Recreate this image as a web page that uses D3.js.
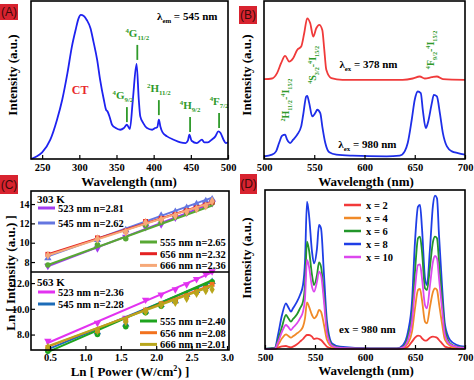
<!DOCTYPE html>
<html>
<head>
<meta charset="utf-8">
<script src="https://cdn.jsdelivr.net/npm/d3@7"></script>
<style>
  body { margin: 0; background: #fff; }
  svg { display: block; }
  text { font-family: "Liberation Serif", "Times New Roman", serif; font-weight: bold; }
</style>
</head>
<body>
<svg id="fig" width="474" height="380"></svg>
<script>
// ---- (A) excitation spectrum, lambda_em = 545 nm
const excWl  = [235, 243, 250, 261, 270, 277, 284, 290, 295, 299, 302, 306, 310, 315, 319, 324, 328, 333, 336, 338, 341, 344, 349, 355, 360, 364, 368, 372, 377, 380, 382, 386, 391, 398, 402, 405, 407, 409, 412, 418, 427, 436, 443, 446, 448, 451, 458, 465, 468, 473, 478, 483, 487, 490, 494, 497, 500];
const excInt = [0, 8, 20, 58, 118, 178, 258, 338, 388, 423, 433, 430, 418, 393, 353, 298, 238, 178, 148, 143, 125, 103, 93, 88, 93, 103, 90, 178, 286, 178, 128, 108, 93, 88, 93, 96, 118, 98, 80, 68, 58, 50, 48, 55, 73, 55, 48, 58, 50, 50, 58, 68, 83, 78, 58, 48, 50];
const excPeakWl  = [364, 378, 407, 449, 488];
const excPeakTop = [156, 343, 177, 126, 138];
const excPeakLbl = ['^{4}G_{9/2}', '^{4}G_{11/2}', '^{2}H_{11/2}', '^{4}H_{9/2}', '^{4}F_{7/2}'];

// ---- (B) emission spectra
const emWl378  = [500, 508, 513, 517, 521, 525, 529, 533, 537, 540, 543, 546, 549, 552, 555, 558, 560, 562, 567, 578, 638, 648, 655, 660, 667, 672, 678, 700];
const emInt378 = [240, 242, 258, 288, 310, 293, 303, 328, 338, 378, 423, 408, 368, 393, 403, 388, 328, 268, 243, 238, 238, 242, 248, 242, 246, 248, 240, 238];
const emWl980  = [500, 508, 512, 515, 518, 521, 523, 526, 529, 533, 537, 539, 542, 543, 545, 548, 551, 553, 556, 558, 561, 565, 572, 588, 622, 635, 640, 643, 647, 650, 653, 656, 658, 661, 663, 667, 669, 672, 675, 678, 682, 687, 693, 700];
const emInt980 = [8, 13, 23, 48, 70, 73, 58, 48, 58, 73, 98, 133, 188, 190, 168, 128, 138, 148, 138, 98, 48, 20, 13, 10, 8, 10, 23, 48, 118, 178, 203, 198, 148, 93, 108, 168, 193, 188, 138, 78, 38, 23, 18, 13];

// ---- (C) ln(I) vs ln(P)
const lnP = [0.47, 1.17, 1.57, 1.85, 2.07, 2.27, 2.43, 2.57, 2.70, 2.79];
const bands = ['523 nm', '545 nm', '555 nm', '656 nm', '666 nm'];
const n303 = [2.81, 2.62, 2.65, 2.32, 2.36];
const a303 = [6.23, 7.35, 6.45, 7.71, 7.59];
const n563 = [2.36, 2.28, 2.40, 2.08, 2.01];
const a563 = [6.24, 5.78, 5.52, 6.07, 6.16];
const lnI303 = [
  [7.6, 9.4, 10.6, 11.6, 11.9, 12.6, 13.1, 13.6, 13.9, 14.1],
  [8.4, 10.3, 11.3, 12.0, 12.8, 13.2, 13.6, 14.0, 14.3, 14.5],
  [7.7, 9.8, 10.4, 11.8, 12.1, 12.7, 13.1, 13.5, 13.8, 14.1],
  [8.8, 10.5, 11.2, 12.2, 12.5, 12.9, 13.3, 13.6, 13.9, 14.2],
  [8.7, 10.4, 11.1, 12.1, 12.4, 12.8, 13.2, 13.5, 13.8, 14.3]
];
const lnI563 = [
  [7.5, 8.9, 9.3, 10.7, 11.1, 11.5, 11.9, 12.3, 12.7, 12.9],
  [6.9, 8.2, 8.8, 9.8, 10.3, 10.6, 11.1, 11.4, 11.7, 12.1],
  [6.7, 8.0, 8.6, 9.7, 10.2, 10.6, 11.1, 11.5, 11.8, 12.1],
  [7.0, 8.3, 9.1, 9.9, 10.4, 10.6, 11.0, 11.3, 11.6, 11.9],
  [7.0, 8.3, 9.0, 9.8, 10.3, 10.5, 10.8, 11.2, 11.4, 11.5]
];

// ---- (D) emission vs doping x, ex = 980 nm
const dWl = [500, 510, 513, 517, 521, 523, 526, 528, 532, 535, 538, 540, 542, 544, 547, 549, 552, 554, 556, 559, 562, 567, 575, 605, 632, 638, 643, 647, 650, 653, 655, 657, 660, 662, 665, 668, 670, 672, 674, 677, 680, 685, 692, 700];
const dX2  = [0, 1, 4, 8, 9, 7, 5, 7, 14, 22, 30, 37, 42, 42, 37, 30, 32, 30, 27, 17, 7, 2, 1, 0, 0, 2, 7, 22, 34, 40, 39, 32, 25, 26, 34, 37, 36, 34, 27, 17, 7, 3, 1, 1];
const dX4  = [0, 1, 12, 32, 44, 40, 34, 38, 47, 54, 67, 92, 140, 127, 102, 92, 102, 117, 112, 72, 27, 7, 2, 1, 1, 4, 17, 52, 122, 177, 180, 147, 82, 77, 127, 172, 182, 177, 137, 77, 27, 10, 4, 2];
const dX6  = [0, 3, 27, 67, 102, 94, 82, 90, 104, 122, 142, 192, 322, 297, 222, 192, 222, 260, 247, 162, 62, 12, 4, 1, 1, 7, 37, 102, 232, 332, 337, 292, 182, 177, 247, 322, 337, 332, 262, 152, 57, 17, 7, 4];
const dX8  = [0, 4, 42, 102, 137, 127, 112, 122, 142, 162, 192, 262, 442, 402, 292, 257, 302, 372, 362, 222, 82, 17, 7, 2, 2, 12, 52, 142, 322, 427, 432, 362, 212, 192, 302, 432, 460, 452, 342, 192, 72, 27, 12, 7];
const dX10 = [0, 2, 20, 52, 72, 67, 57, 64, 77, 92, 112, 152, 267, 247, 187, 172, 202, 232, 222, 142, 47, 10, 3, 1, 1, 5, 27, 82, 182, 252, 254, 212, 132, 122, 192, 262, 279, 272, 212, 122, 42, 14, 6, 3];
const dLabels = ['x = 2', 'x = 4', 'x = 6', 'x = 8', 'x = 10'];

const svg = d3.select('#fig');
svg.append('rect').attr('width', 474).attr('height', 380).attr('fill', '#fff');

const GREEN = '#2f9a2a';

// text with ^{sup} and _{sub}
function rich(sel, str, size) {
  const parts = str.match(/\^\{[^}]*\}|_\{[^}]*\}|[^^_]+/g);
  let shift = 0;
  parts.forEach(p => {
    let type = null, t = p;
    if (p[0] === '^') { type = 'sup'; t = p.slice(2, -1); }
    else if (p[0] === '_') { type = 'sub'; t = p.slice(2, -1); }
    const target = type === 'sup' ? -size * 0.38 : type === 'sub' ? size * 0.3 : 0;
    sel.append('tspan').attr('dy', target - shift).attr('font-size', type ? size * 0.62 : size).text(t);
    shift = target;
  });
  return sel;
}

function frame(x0, y0, x1, y1) {
  svg.append('rect').attr('x', x0).attr('y', y0).attr('width', x1 - x0).attr('height', y1 - y0)
    .attr('fill', 'none').attr('stroke', '#000').attr('stroke-width', 1.6);
}

function bottomAxis(scale, y, ticks, fmt, pad) {
  const g = svg.append('g').attr('transform', `translate(0,${y})`)
    .call(d3.axisBottom(scale).tickValues(ticks).tickFormat(fmt).tickSize(-4).tickPadding(pad));
  g.attr('font-family', null).attr('font-size', 10.5);
  g.select('.domain').remove();
  g.selectAll('line').attr('stroke', '#000').attr('stroke-width', 1.2);
  g.selectAll('text').attr('fill', '#000');
}

function leftAxis(scale, x, ticks) {
  const g = svg.append('g').attr('transform', `translate(${x},0)`)
    .call(d3.axisLeft(scale).tickValues(ticks).tickSize(-4).tickPadding(1.5));
  g.attr('font-family', null).attr('font-size', 10);
  g.select('.domain').remove();
  g.selectAll('line').attr('stroke', '#000').attr('stroke-width', 1.2);
  g.selectAll('text').attr('fill', '#000');
}

function xTitle(str, x, y) {
  rich(svg.append('text').attr('x', x).attr('y', y).attr('text-anchor', 'middle'), str, 13);
}
function yTitle(str, x, y) {
  rich(svg.append('text').attr('transform', `translate(${x},${y}) rotate(-90)`).attr('text-anchor', 'middle'), str, 13);
}

function tag(x, y, w, h, label) {
  svg.append('rect').attr('x', x).attr('y', y).attr('width', w).attr('height', h).attr('fill', '#d8232f');
  svg.append('text').attr('x', x + w / 2).attr('y', y + h / 2 + 4).attr('text-anchor', 'middle')
    .style('font-family', '"Liberation Sans", Arial, sans-serif').style('font-weight', 'normal')
    .attr('font-size', 12).attr('fill', '#3a0a0a').text(label);
}

const curve = (x, y, xs, ys) => d3.line().x(i => x(xs[i])).y(i => y(ys[i])).curve(d3.curveMonotoneX)(d3.range(xs.length));

// ================= (A)
const xA = d3.scaleLinear().domain([235, 500]).range([31, 228]);
const yA = d3.scaleLinear().domain([0, 475]).range([159, 1]);
svg.append('path').attr('d', curve(xA, yA, excWl, excInt)).attr('fill', 'none').attr('stroke', '#1e22f0').attr('stroke-width', 1.8);
excPeakWl.forEach((w, i) => {
  const px = xA(w), py = yA(excPeakTop[i]);
  svg.append('line').attr('x1', px).attr('x2', px).attr('y1', py).attr('y2', py + 15).attr('stroke', GREEN).attr('stroke-width', 1.8);
  rich(svg.append('text').attr('x', px - (i === 0 ? 4 : 0)).attr('y', py - 8).attr('text-anchor', 'middle').attr('fill', GREEN), excPeakLbl[i], 11);
});
svg.append('text').attr('x', xA(301)).attr('y', 94).attr('text-anchor', 'middle').attr('fill', '#e8282c').attr('font-size', 12).text('CT');
rich(svg.append('text').attr('x', 157).attr('y', 20).attr('fill', '#000'), 'λ_{em} = 545 nm', 11);
frame(31, 1, 228, 159);
bottomAxis(xA, 159, [250, 300, 350, 400, 450, 500], d3.format('d'), 4.5);
xTitle('Wavelength (nm)', 129, 186);
yTitle('Intensity (a.u.)', 17, 75);
tag(0, 4, 18, 16, '(A)');

// ================= (B)
const xB = d3.scaleLinear().domain([500, 700]).range([264, 465]);
const yB = d3.scaleLinear().domain([0, 475]).range([159, 1]);
svg.append('path').attr('d', curve(xB, yB, emWl378, emInt378)).attr('fill', 'none').attr('stroke', '#f03a3a').attr('stroke-width', 1.8);
svg.append('path').attr('d', curve(xB, yB, emWl980, emInt980)).attr('fill', 'none').attr('stroke', '#1e2ee8').attr('stroke-width', 1.8);
rich(svg.append('text').attr('x', xB(575)).attr('y', yB(274)).attr('fill', '#000'), 'λ_{ex} = 378 nm', 11);
rich(svg.append('text').attr('x', xB(574)).attr('y', yB(33)).attr('fill', '#000'), 'λ_{ex} = 980 nm', 11);
[[521, 177, '^{2}H_{11/2}-^{4}I_{15/2}'], [548, 283, '^{4}S_{3/2}-^{4}I_{15/2}'], [665, 328, '^{4}F_{9/2}-^{4}I_{15/2}']].forEach(d => {
  rich(svg.append('text').attr('transform', `translate(${xB(d[0]) + 4},${yB(d[1])}) rotate(-90)`)
    .attr('text-anchor', 'middle').attr('fill', GREEN), d[2], 10);
});
frame(264, 1, 465, 159);
bottomAxis(xB, 159, [500, 550, 600, 650, 700], d3.format('d'), 4.5);
xTitle('Wavelength (nm)', 366, 186);
yTitle('Intensity (a.u.)', 251, 75);
tag(239, 6, 18, 18, '(B)');

// ================= (C)
const xC = d3.scaleLinear().domain([0.5, 3.0]).range([50, 227]);
const yCt = d3.scaleLinear().domain([6.97, 15.35]).range([272, 191]);
const yCb = d3.scaleLinear().domain([6.8, 12.86]).range([350, 272]);
const col303 = ['#a23cf0', '#6476e0', '#58a834', '#e42222', '#f6a878'];
const col563 = ['#e232f0', '#1c6cb8', '#1ea41e', '#f2721e', '#b8a61c'];
const shapes = [d3.symbolTriangle, d3.symbolTriangle, d3.symbolCircle, d3.symbolSquare, d3.symbolDiamond];
const rot = [180, 0, 0, 0, 0];

function lnPanel(yS, vals, ns, as, cols) {
  vals.forEach((ser, k) => {
    const fit = d3.line().x(d => xC(d)).y(d => yS(as[k] + ns[k] * d));
    svg.append('path').attr('d', fit([0.45, 2.8])).attr('stroke', cols[k]).attr('stroke-width', 2).attr('fill', 'none');
    svg.append('g').selectAll('path').data(ser).join('path')
      .attr('transform', (d, i) => `translate(${xC(lnP[i])},${yS(d)}) rotate(${rot[k]})`)
      .attr('d', d3.symbol(shapes[k], 24)).attr('fill', cols[k]);
  });
}
lnPanel(yCt, lnI303, n303, a303, col303);
lnPanel(yCb, lnI563, n563, a563, col563);

function lnLegend(x0, y0, idx, ns, cols, dy) {
  idx.forEach((k, j) => {
    const y = y0 + j * dy;
    svg.append('line').attr('x1', x0).attr('x2', x0 + 17).attr('y1', y).attr('y2', y).attr('stroke', cols[k]).attr('stroke-width', 3);
    svg.append('text').attr('x', x0 + 20).attr('y', y + 4).attr('font-size', 10.5).attr('fill', '#000')
      .text(`${bands[k]} n=${ns[k].toFixed(2)}`);
  });
}
svg.append('text').attr('x', 37).attr('y', 203).attr('font-size', 11).text('303 K');
lnLegend(38, 208, [0, 1], n303, col303, 15);
lnLegend(140, 242, [2, 3, 4], n303, col303, 11.7);
svg.append('text').attr('x', 37).attr('y', 286).attr('font-size', 11).text('563 K');
lnLegend(38, 292, [0, 1], n563, col563, 12);
lnLegend(140, 321, [2, 3, 4], n563, col563, 11.7);

frame(31, 191, 229, 350);
svg.append('line').attr('x1', 31).attr('x2', 229).attr('y1', 272).attr('y2', 272).attr('stroke', '#000').attr('stroke-width', 1.6);
leftAxis(yCt, 31, [8, 10, 12, 14]);
leftAxis(yCb, 31, [8, 10, 12]);
bottomAxis(xC, 350, [0.5, 1.0, 1.5, 2.0, 2.5, 3.0], d3.format('.1f'), 3.5);
xTitle('Ln [ Power (W/cm^{2}) ]', 130, 376);
yTitle('Ln [ Intensity (a.u.) ]', 15, 273);
tag(0, 175, 18, 19, '(C)');

// ================= (D)
const xD = d3.scaleLinear().domain([500, 700]).range([265, 465]);
const yD = d3.scaleLinear().domain([0, 477]).range([349, 190]);
const dSeries = [dX2, dX4, dX6, dX8, dX10];
const dColors = ['#f23a3a', '#f08a28', '#22962a', '#1f3ee6', '#dc48ee'];
[0, 1, 3, 2, 4].forEach(k => {
  svg.append('path').attr('d', curve(xD, yD, dWl, dSeries[k])).attr('fill', 'none').attr('stroke', dColors[k]).attr('stroke-width', 1.8);
});
dLabels.forEach((l, k) => {
  const y = 205 + k * 13;
  svg.append('line').attr('x1', 344).attr('x2', 361).attr('y1', y).attr('y2', y).attr('stroke', dColors[k]).attr('stroke-width', 2.5);
  svg.append('text').attr('x', 366).attr('y', y + 4).attr('font-size', 10.5).text(l);
});
svg.append('text').attr('x', xD(574)).attr('y', yD(48)).attr('font-size', 11).text('ex = 980 nm');
frame(265, 190, 465, 349);
bottomAxis(xD, 349, [500, 550, 600, 650, 700], d3.format('d'), 4.5);
xTitle('Wavelength (nm)', 366, 375);
yTitle('Intensity (a.u.)', 251, 258);
tag(240, 174, 17, 20, '(D)');
</script>
</body>
</html>
